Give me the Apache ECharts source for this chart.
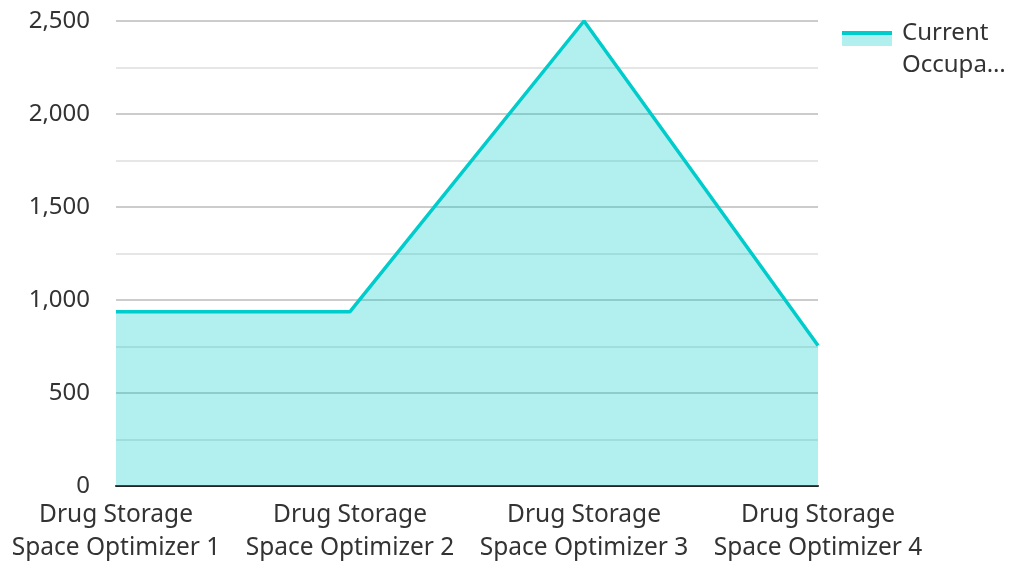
<!DOCTYPE html>
<html>
<head>
<meta charset="utf-8">
<script src="https://cdn.jsdelivr.net/npm/echarts@6/dist/echarts.min.js"></script>
<style>
html,body{margin:0;padding:0;background:#fff;overflow:hidden;}
#chart{width:1011px;height:565px;}
</style>
</head>
<body>
<div id="chart"></div>
<script>
const categories = [
  "Drug Storage\nSpace Optimizer 1",
  "Drug Storage\nSpace Optimizer 2",
  "Drug Storage\nSpace Optimizer 3",
  "Drug Storage\nSpace Optimizer 4"
];
const seriesName = "Current Occupancy";
const legendLabel = "Current\nOccupa\u2026";
const occupancy = [937, 937, 2500, 755];

const chart = echarts.init(document.getElementById('chart'));
const font = 'Noto Sans';
chart.setOption({
  animation: false,
  textStyle: { fontFamily: font },
  grid: { left: 116, right: 193, top: 21, bottom: 77, containLabel: false },
  legend: {
    left: 842, top: 17, padding: 0,
    orient: 'vertical',
    itemWidth: 50, itemHeight: 36, itemGap: 10,
    formatter: () => legendLabel,
    itemStyle: {
      color: new echarts.graphic.LinearGradient(0, 0, 0, 1, [
        { offset: 0, color: '#00CCCC' },
        { offset: 0.111, color: '#00CCCC' },
        { offset: 0.111, color: '#B2F0F0' },
        { offset: 0.417, color: '#B2F0F0' },
        { offset: 0.417, color: 'rgba(255,255,255,0)' },
        { offset: 1, color: 'rgba(255,255,255,0)' }
      ])
    },
    textStyle: {
      fontFamily: font, fontSize: 24, color: '#333', lineHeight: 32, padding: [0, 0, 0, 5]
    },
    data: [{ name: seriesName, icon: 'rect' }]
  },
  xAxis: {
    type: 'category',
    data: categories,
    boundaryGap: false,
    axisLine: { lineStyle: { color: '#222', width: 2 } },
    axisTick: { show: false },
    axisLabel: { fontFamily: font, fontSize: 24.5, color: '#333', lineHeight: 33, margin: 13, interval: 0 },
    splitLine: { show: false }
  },
  yAxis: {
    type: 'value',
    min: 0, max: 2500, interval: 500,
    axisLine: { show: false },
    axisTick: { show: false },
    axisLabel: {
      fontFamily: font, fontSize: 24, color: '#333', margin: 26,
      formatter: v => v.toLocaleString('en-US')
    },
    splitLine: { lineStyle: { color: '#cccccc', width: 2 } },
    minorTick: { show: false, splitNumber: 2 },
    minorSplitLine: { show: true, lineStyle: { color: '#e6e6e6', width: 2 } }
  },
  series: [{
    name: seriesName,
    type: 'line',
    data: occupancy,
    symbol: 'none',
    lineStyle: { color: '#00CCCC', width: 3.5 },
    itemStyle: { color: '#00CCCC' },
    areaStyle: { color: '#00CCCC', opacity: 0.3 },
    z: 3
  }]
});
</script>
</body>
</html>
